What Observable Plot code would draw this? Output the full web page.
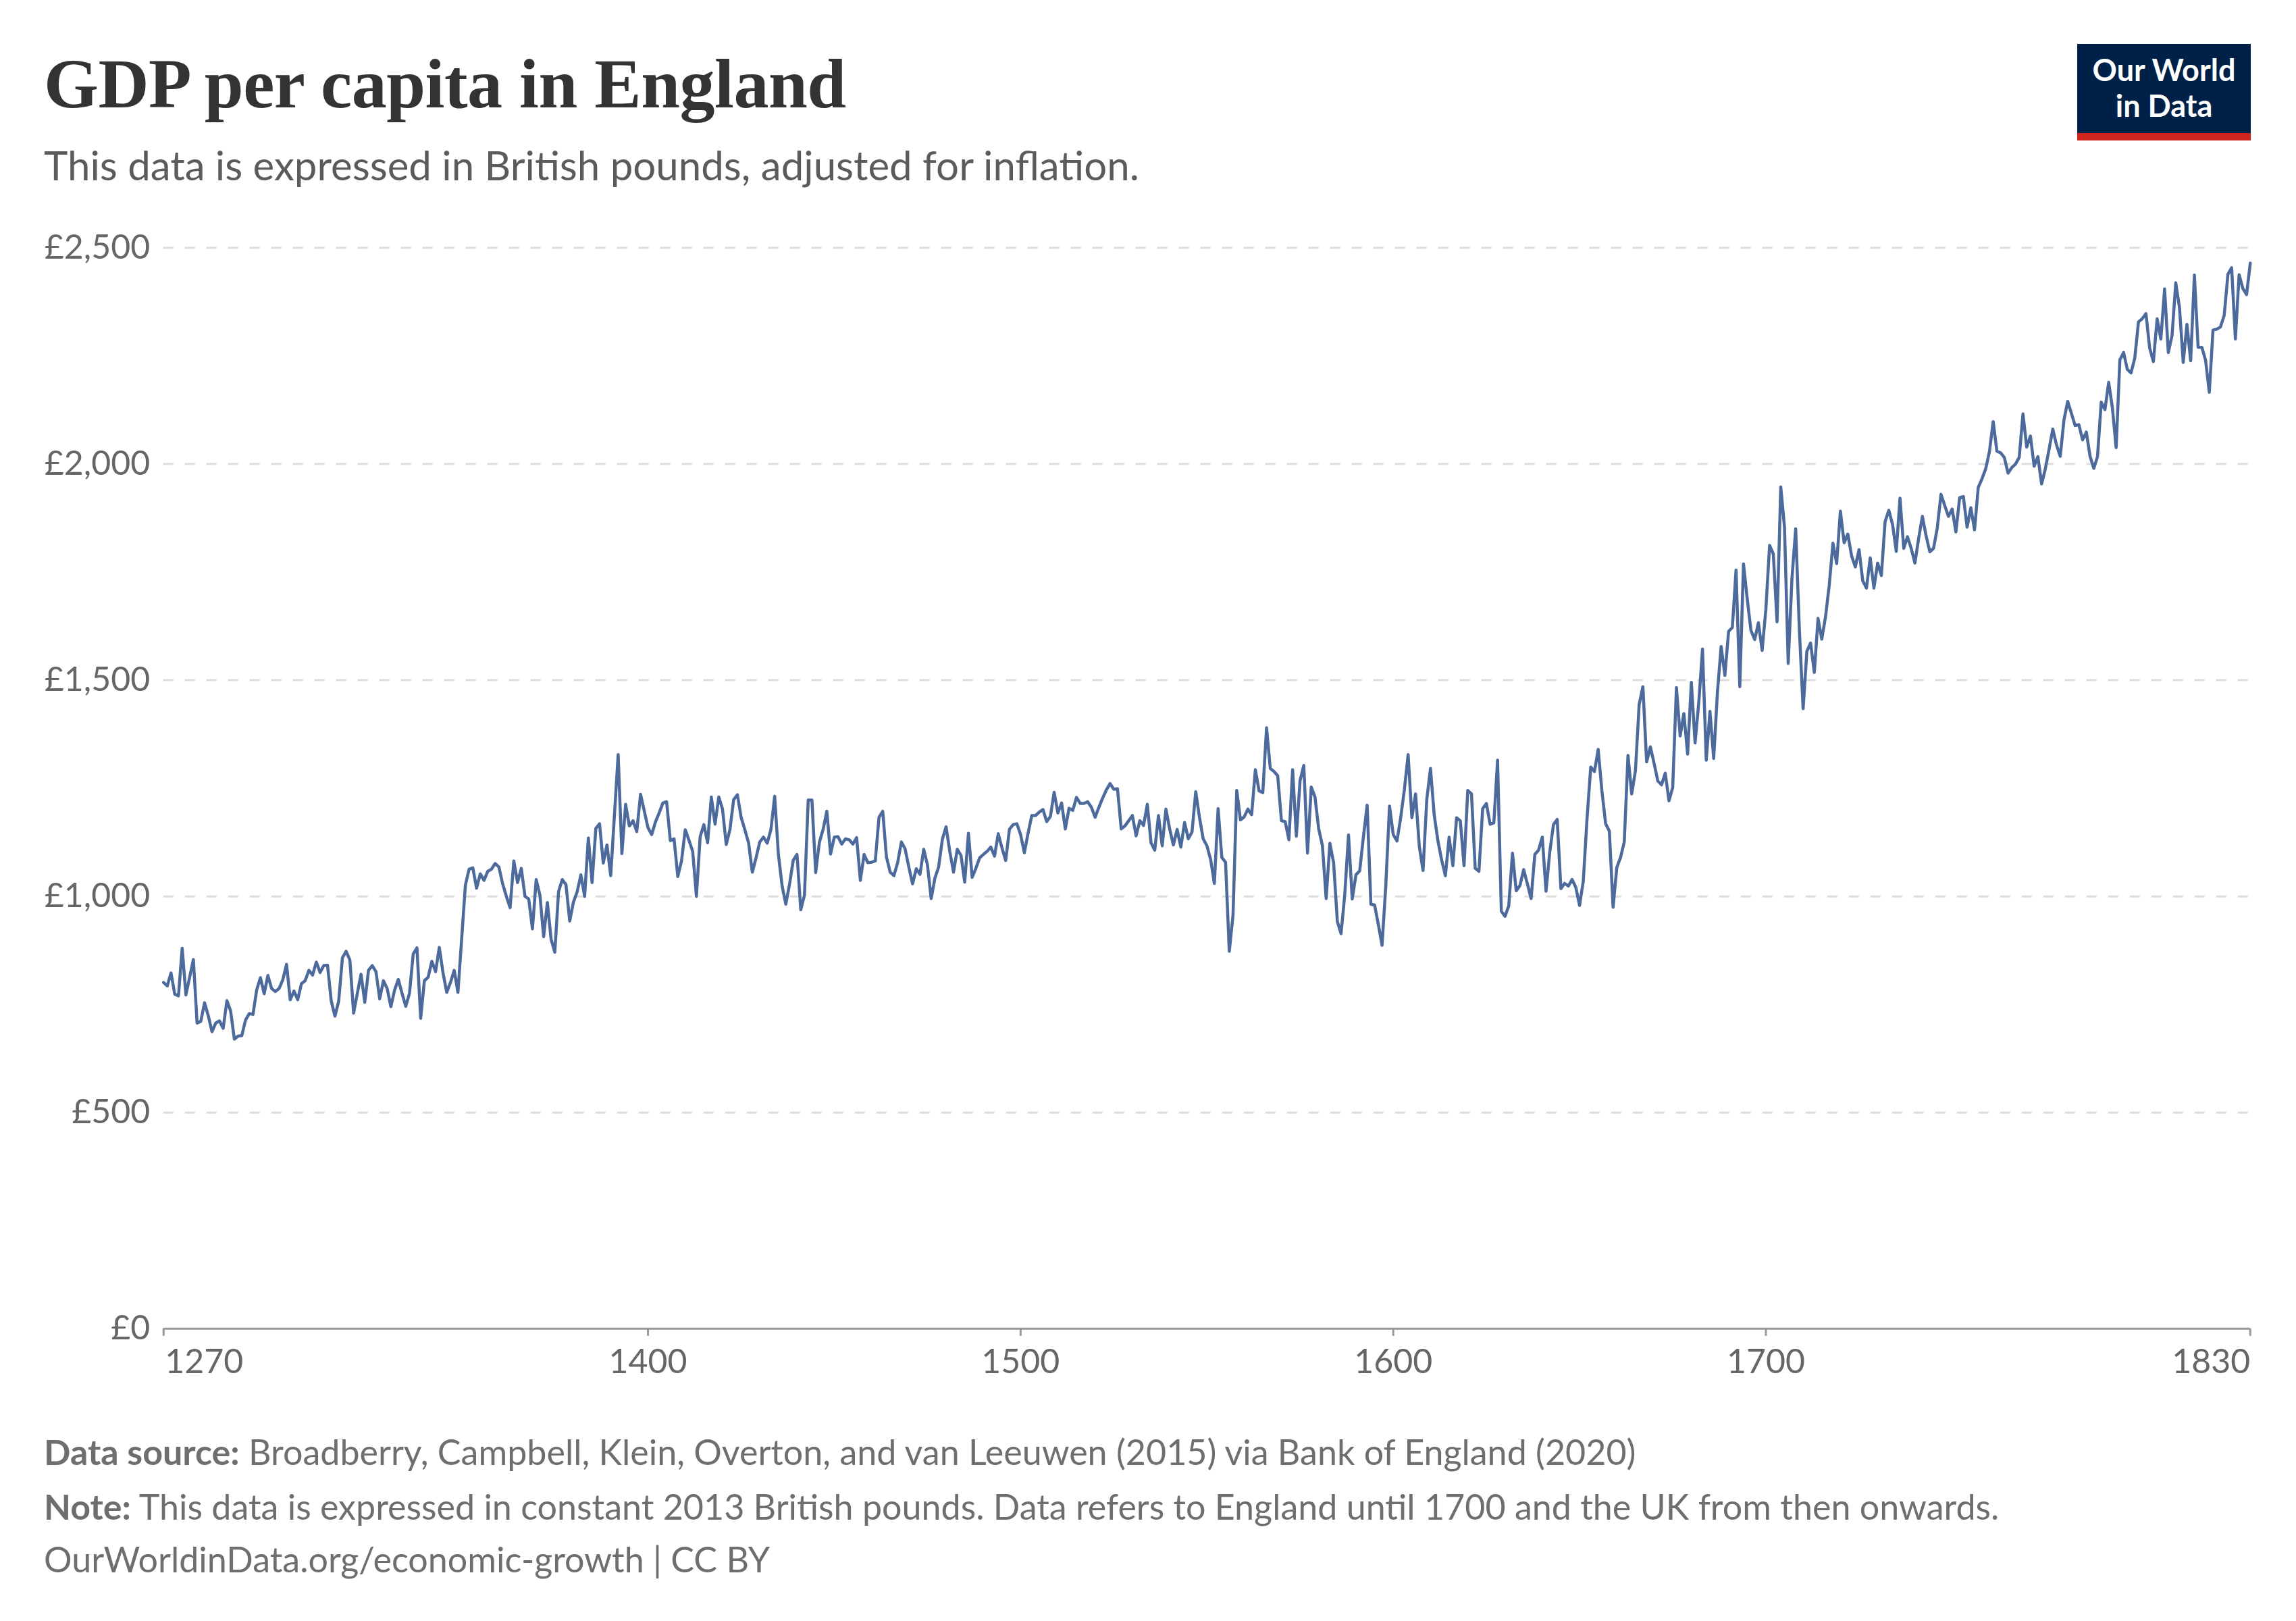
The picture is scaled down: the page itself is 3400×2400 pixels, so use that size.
<!DOCTYPE html>
<html>
<head>
<meta charset="utf-8">
<script src="https://cdn.jsdelivr.net/npm/d3@7"></script>
<script src="https://cdn.jsdelivr.net/npm/@observablehq/plot@0.6"></script>
<style>
  html, body { margin: 0; padding: 0; background: #fff; }
  #page { position: relative; width: 3400px; height: 2400px; background: #fff; font-family: Lato, "Noto Sans", sans-serif; }
  #title { position: absolute; left: 65px; top: 72px; font-family: "Liberation Serif", "DejaVu Serif", serif; font-weight: 700; font-size: 104px; color: #333; line-height: 1; letter-spacing: -0.5px; }
  #subtitle { position: absolute; left: 65px; top: 214px; font-size: 60px; color: #5b5b5b; line-height: 1; white-space: nowrap; }
  #logo { position: absolute; left: 3076px; top: 65px; width: 257px; height: 143px; background: #002147; }
  #logo .bar { position: absolute; left: 0; bottom: 0; width: 100%; height: 11px; background: #ce261e; }
  #logo .txt { position: absolute; left: 0; width: 100%; text-align: center; color: #fff; font-weight: 700; font-size: 45px; line-height: 1; letter-spacing: 0px; white-space: nowrap; }
  #chart { position: absolute; left: 0; top: 300px; }
  .foot { position: absolute; left: 65px; font-size: 52px; color: #6e6e6e; line-height: 1; white-space: nowrap; }
  .foot b { font-weight: 700; }
</style>
</head>
<body>
<div id="page">
  <div id="title">GDP per capita in England</div>
  <div id="subtitle">This data is expressed in British pounds, adjusted for inflation.</div>
  <div id="logo"><div class="txt" style="top:16px">Our World</div><div class="txt" style="top:69px">in Data</div><div class="bar"></div></div>
  <div id="chart"></div>
  <div class="foot" style="top:2123px"><b>Data source:</b> Broadberry, Campbell, Klein, Overton, and van Leeuwen (2015) via Bank of England (2020)</div>
  <div class="foot" style="top:2204px"><b>Note:</b> This data is expressed in constant 2013 British pounds. Data refers to England until 1700 and the UK from then onwards.</div>
  <div class="foot" style="top:2282px">OurWorldinData.org/economic-growth | CC BY</div>
</div>
<script>
// First year of the annual series
const firstYear = 1270;
// GDP per capita (constant 2013 £), one value per year 1270–1830
const gdp = [
801,793,823,774,770,880,772,813,854,707,711,754,724,687,707,712,695,759,735,670,
677,678,714,729,727,784,812,775,817,787,780,787,807,843,761,781,761,798,805,829,
818,848,824,840,841,758,723,758,858,873,853,730,776,820,755,829,840,826,763,805,
787,745,783,808,776,746,776,867,881,718,805,813,850,826,882,823,778,801,829,778,
902,1026,1063,1066,1019,1052,1037,1058,1063,1076,1068,1029,1000,974,1082,1032,1065,1000,994,925,
1039,1003,907,986,901,871,1011,1039,1027,943,987,1011,1050,1000,1135,1032,1157,1168,1077,1119,
1048,1188,1328,1099,1213,1163,1175,1150,1236,1198,1159,1143,1172,1193,1216,1219,1129,1133,1046,1082,
1154,1130,1104,1000,1138,1166,1124,1230,1167,1230,1202,1120,1155,1224,1235,1183,1154,1124,1056,1089,
1126,1137,1123,1155,1232,1097,1024,982,1029,1084,1097,969,1003,1223,1223,1055,1125,1155,1197,1098,
1137,1138,1121,1133,1131,1121,1136,1037,1097,1078,1079,1082,1183,1197,1091,1056,1048,1078,1126,1110,
1068,1029,1064,1051,1109,1073,995,1042,1068,1132,1161,1104,1056,1109,1095,1033,1146,1044,1065,1089,
1097,1104,1114,1093,1145,1112,1083,1155,1166,1168,1143,1101,1146,1187,1187,1195,1201,1173,1185,1241,
1193,1216,1156,1204,1199,1229,1215,1215,1219,1206,1183,1206,1227,1246,1261,1248,1249,1156,1163,1175,
1187,1140,1175,1164,1213,1124,1107,1187,1117,1202,1156,1119,1155,1114,1171,1133,1149,1242,1183,1133,
1117,1085,1030,1203,1090,1079,873,956,1245,1177,1184,1202,1189,1293,1244,1240,1390,1296,1289,1279,
1175,1173,1131,1293,1139,1268,1303,1100,1253,1230,1156,1117,995,1123,1078,942,914,1005,1142,994,
1050,1059,1138,1211,982,980,935,887,1024,1209,1143,1128,1182,1248,1328,1182,1237,1115,1060,1224,
1296,1188,1128,1084,1048,1137,1071,1182,1175,1071,1245,1237,1065,1058,1203,1215,1167,1170,1315,966,
954,978,1100,1013,1025,1062,1029,995,1097,1107,1137,1012,1102,1166,1178,1018,1030,1024,1039,1021,
979,1035,1179,1299,1289,1340,1244,1168,1151,975,1067,1090,1126,1326,1237,1291,1444,1485,1311,1346,
1308,1267,1258,1285,1221,1252,1483,1371,1423,1329,1495,1355,1449,1572,1315,1428,1319,1472,1578,1511,
1613,1622,1755,1485,1769,1688,1615,1594,1633,1569,1664,1812,1792,1635,1947,1854,1539,1735,1850,1615,
1434,1567,1586,1518,1643,1595,1646,1719,1817,1770,1891,1818,1838,1788,1762,1802,1730,1713,1783,1713,
1771,1742,1867,1893,1860,1798,1921,1805,1832,1805,1771,1828,1879,1834,1797,1805,1852,1930,1904,1879,
1896,1843,1922,1925,1854,1899,1848,1946,1966,1989,2029,2098,2030,2026,2015,1979,1992,2000,2016,2116,
2039,2065,1995,2017,1954,1989,2034,2081,2044,2018,2102,2145,2117,2089,2091,2056,2074,2018,1990,2017,
2143,2126,2189,2130,2038,2241,2258,2219,2211,2245,2329,2336,2348,2268,2237,2336,2289,2405,2258,2297,
2419,2362,2235,2323,2239,2437,2270,2270,2240,2166,2310,2312,2317,2344,2439,2454,2289,2438,2406,2392,
2465
];
// Axis ticks
const yTicks = [0, 500, 1000, 1500, 2000, 2500];
const xTicks = [1270, 1400, 1500, 1600, 1700, 1830];
const xTickLabels = ["1270", "1400", "1500", "1600", "1700", "1830"];

const data = gdp.map((v, i) => ({year: firstYear + i, gdp: v}));
const xLabelRows = xTicks.map((t, i) => ({year: t, label: xTickLabels[i]}));
const fmt = d3.format(",");

const chart = Plot.plot({
  width: 3400,
  height: 1800,
  marginTop: 66.5,
  marginBottom: 133.2,
  marginLeft: 241.7,
  marginRight: 68.2,
  style: {fontFamily: "Lato, 'Noto Sans', sans-serif", fontSize: "50px", color: "#666", background: "transparent", overflow: "visible"},
  x: {domain: [1270, 1830]},
  y: {domain: [0, 2500]},
  marks: [
    Plot.ruleY(yTicks.filter(d => d > 0), {stroke: "#dddddd", strokeWidth: 3, strokeDasharray: "15,17"}),
    Plot.axisY({ticks: yTicks, tickSize: 0, tickPadding: 20, fontSize: 50, fill: "#666", label: null, tickFormat: d => "£" + fmt(d)}),
    Plot.axisX({ticks: xTicks, tickSize: 11, stroke: "#999", strokeWidth: 3, tickFormat: () => "", label: null}),
    Plot.ruleY([0], {stroke: "#999", strokeWidth: 3}),
    Plot.lineY(data, {x: "year", y: "gdp", stroke: "#4C6A9C", strokeWidth: 4.5, strokeLinejoin: "round"}),
    Plot.text(xLabelRows.slice(0, 1), {x: "year", text: "label", frameAnchor: "bottom", dy: 66, textAnchor: "start", dx: 2, fontSize: 50, fill: "#666"}),
    Plot.text(xLabelRows.slice(1, -1), {x: "year", text: "label", frameAnchor: "bottom", dy: 66, textAnchor: "middle", fontSize: 50, fill: "#666"}),
    Plot.text(xLabelRows.slice(-1), {x: "year", text: "label", frameAnchor: "bottom", dy: 66, textAnchor: "end", fontSize: 50, fill: "#666"})
  ]
});
document.getElementById("chart").appendChild(chart);
</script>
</body>
</html>
